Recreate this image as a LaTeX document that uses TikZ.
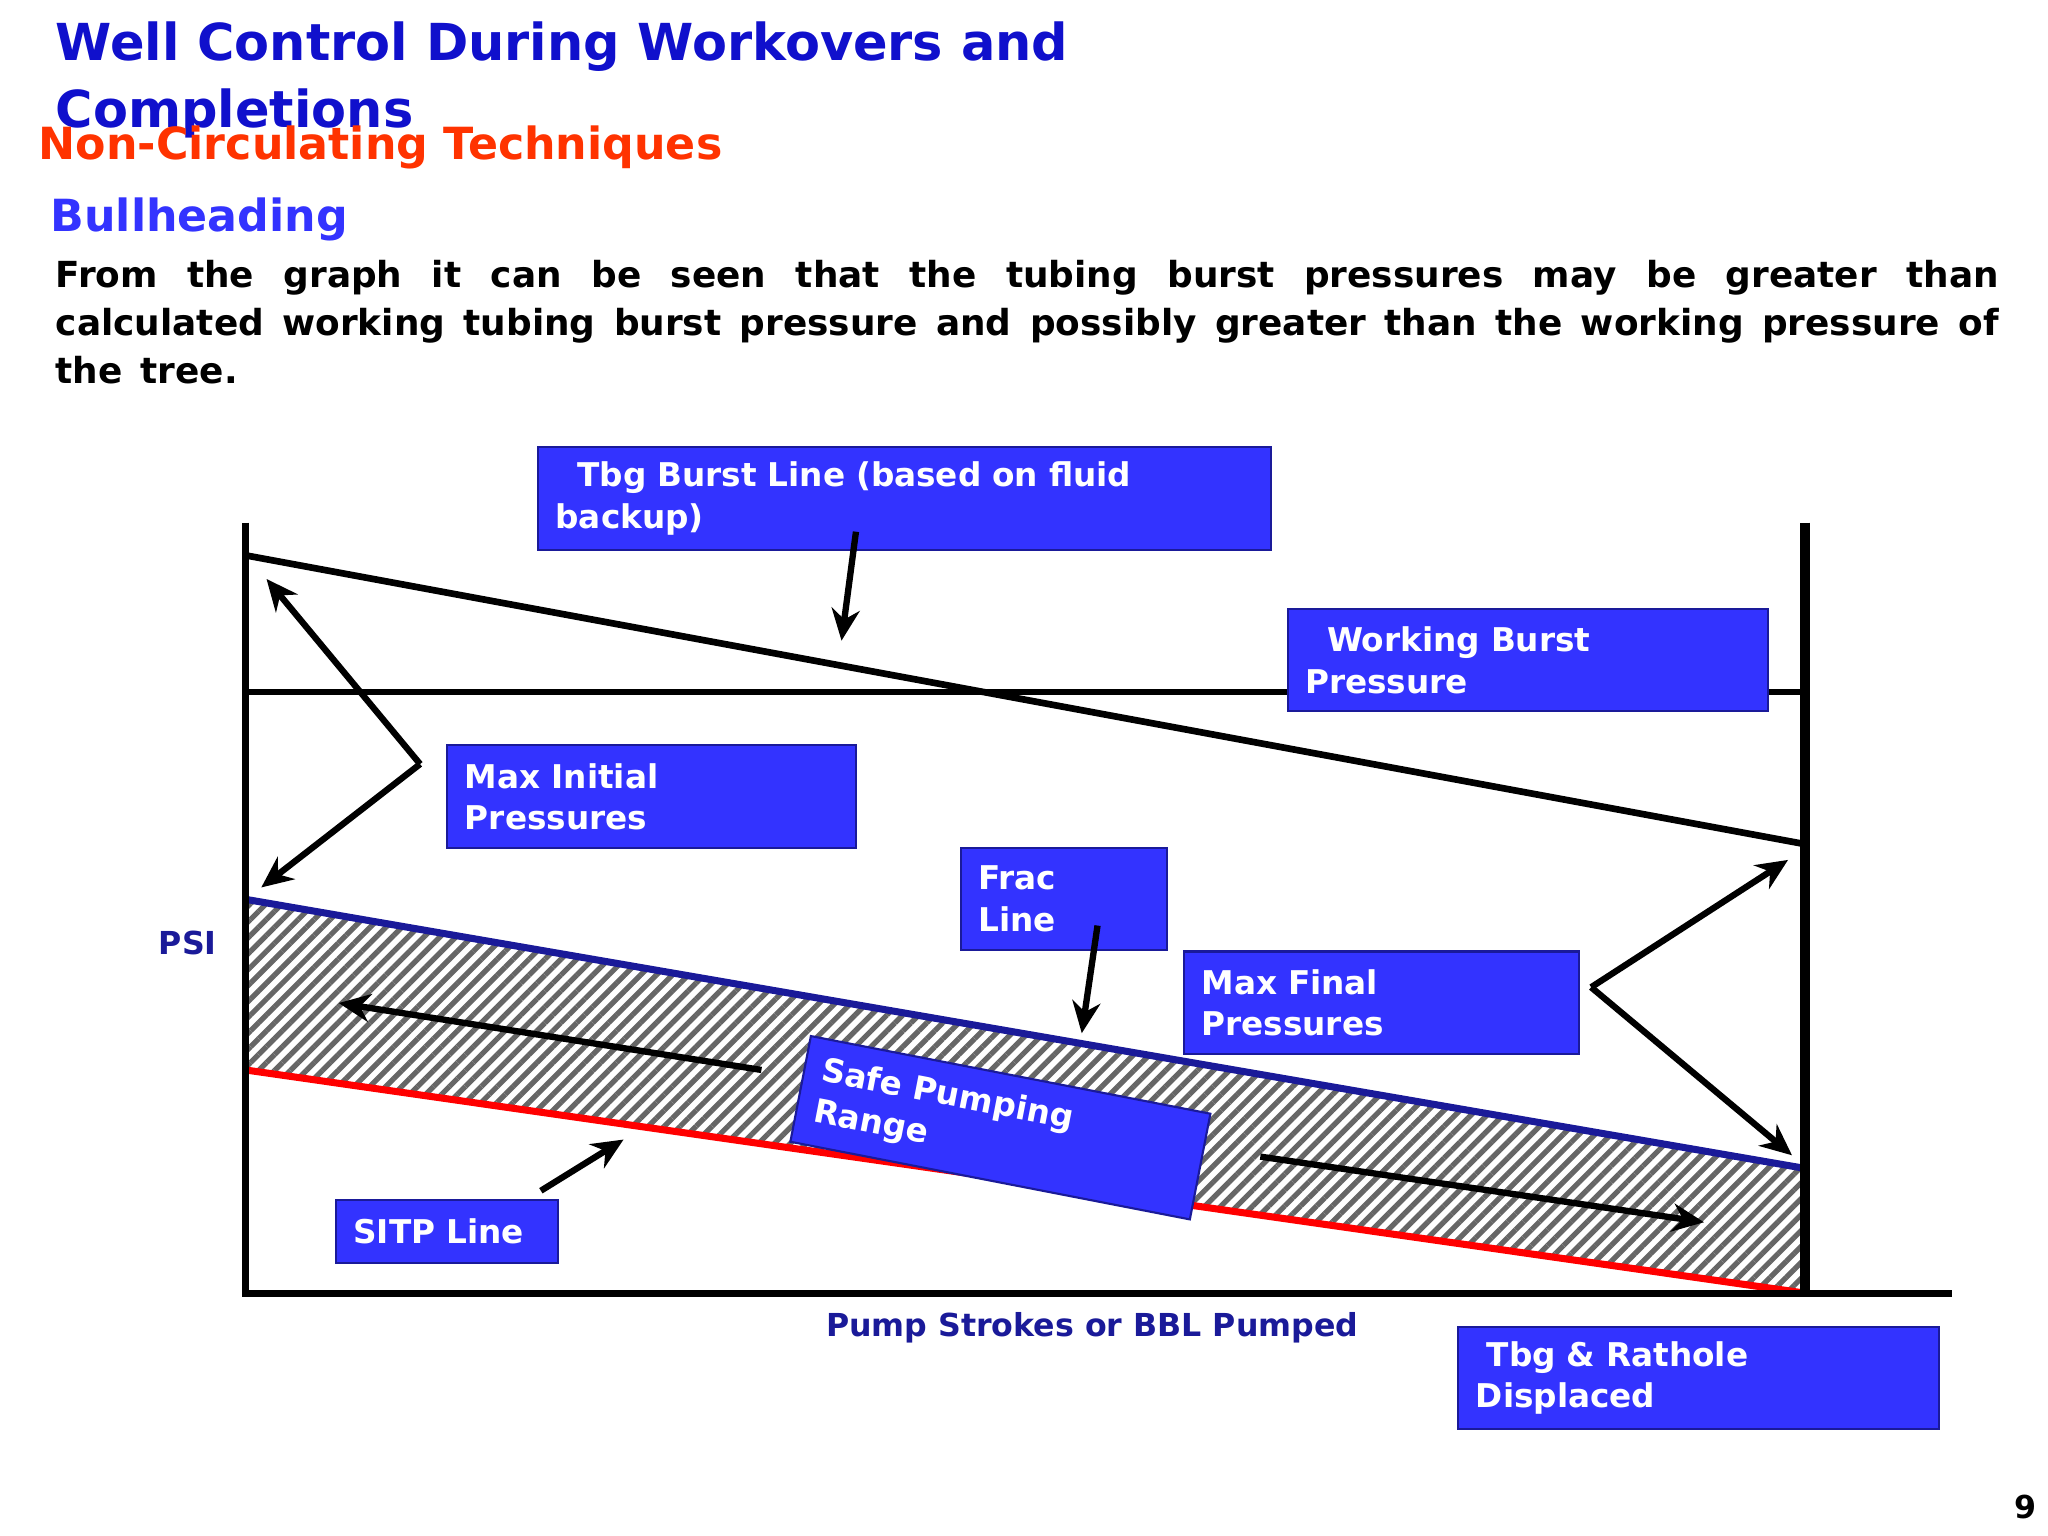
\documentclass[tikz,border=0pt]{standalone}
\usepackage{fontspec}
\setmainfont{DejaVu Sans}
\usetikzlibrary{patterns.meta,arrows.meta}
\definecolor{bx}{HTML}{3333FF}
\definecolor{navy}{HTML}{1A1A99}
\definecolor{ttl}{HTML}{1010CC}
\definecolor{org}{HTML}{FF3300}
\begin{document}
\begin{tikzpicture}[x=0.013128cm,y=-0.013128cm,
  box/.style={draw=navy,line width=0.6pt,fill=bx,text=white,anchor=north west,align=left,inner xsep=5pt,inner ysep=4pt,font=\bfseries\fontsize{9.3}{11.8}\selectfont},
  arr/.style={line width=1.8pt,-{Stealth[length=9pt,width=8pt]}},
  lbl/.style={text=navy,font=\bfseries\fontsize{9}{11}\selectfont}]
\useasboundingbox (0,0) rectangle (1560,1170);
\fill[white] (0,0) rectangle (1560,1170);
\node[anchor=north west,text=ttl,font=\bfseries\fontsize{14.5}{19}\selectfont,align=left,inner sep=0] (t) at (42,16) {Well Control During Workovers and\\Completions};
\node[anchor=north west,text=org,font=\bfseries\fontsize{12.6}{15}\selectfont,inner sep=0] (s) at (29,95) {Non-Circulating Techniques};
\node[anchor=north west,text=bx,font=\bfseries\fontsize{12.6}{15}\selectfont,inner sep=0] (b) at (38,150) {Bullheading};
\node[anchor=north west,text width=1480*0.013128cm,align=justify,font=\bfseries\fontsize{10.2}{13.6}\selectfont,inner sep=0] (p) at (42,198) {\hyphenpenalty=10000\spaceskip=0.5em plus 1em From the graph it can be seen that the tubing burst pressures may be greater than calculated working tubing burst pressure and possibly greater than the working pressure of the tree.};
% hatched region
\fill[white] (187,685) -- (1375,890) -- (1375,985) -- (187,815) -- cycle;
\fill[pattern={Lines[angle=45,distance=3.2pt,line width=1.5pt]},pattern color=black!60] (187,685) -- (1375,890) -- (1375,985) -- (187,815) -- cycle;
\draw[navy,line width=2pt] (187,685) -- (1375,890);
\draw[red,line width=2pt] (187,815) -- (1375,985);
% axes
\draw[line width=2pt] (187,398) -- (187,985) -- (1487,985);
\draw[line width=3pt] (1375,398) -- (1375,985);
\draw[line width=1.9pt] (187,423) -- (1375,643);
\draw[line width=1.9pt] (187,527) -- (1375,527);
% boxes
\node[box,minimum width=558*0.013128cm,minimum height=78*0.013128cm,text width=558*0.013128cm-10pt] (tb) at (409,340) {\ \ Tbg Burst Line (based on fluid\\backup)};
\node[box,minimum width=366*0.013128cm,minimum height=78*0.013128cm,text width=366*0.013128cm-10pt] (wb) at (980,463) {\ \ Working Burst\\Pressure};
\node[box,minimum width=311*0.013128cm,minimum height=78*0.013128cm,text width=311*0.013128cm-10pt] (mi) at (340,567) {Max Initial\\Pressures};
\node[box,minimum width=157*0.013128cm,minimum height=78*0.013128cm,text width=157*0.013128cm-10pt] (fl) at (731,645) {Frac\\Line};
\node[box,minimum width=301*0.013128cm,minimum height=78*0.013128cm,text width=301*0.013128cm-10pt] (mf) at (901,724) {Max Final\\Pressures};
\node[box,minimum width=169*0.013128cm,minimum height=48*0.013128cm,text width=169*0.013128cm-10pt] (si) at (255,913) {SITP Line};
\node[box,minimum width=366*0.013128cm,minimum height=78*0.013128cm,text width=366*0.013128cm-10pt] (tr) at (1110,1010) {\ Tbg \& Rathole\\Displaced};
\node[box,anchor=center,rotate=-11,minimum width=310*0.013128cm,minimum height=82*0.013128cm,text width=310*0.013128cm-10pt] (sp) at (762,859) {Safe Pumping\\Range};
% arrows
\coordinate (a1) at (652,405); \coordinate (a1e) at (641,488);
\draw[arr] (a1) -- (a1e);
\coordinate (v1) at (320,582); \coordinate (v1a) at (203,441); \coordinate (v1b) at (199,676);
\draw[arr] (v1) -- (v1a); \draw[arr] (v1) -- (v1b);
\coordinate (a2) at (580,815); \coordinate (a2e) at (258,764);
\draw[arr] (a2) -- (a2e);
\coordinate (a3) at (412,907); \coordinate (a3e) at (475,868);
\draw[arr] (a3) -- (a3e);
\coordinate (a4) at (836,705); \coordinate (a4e) at (824,787);
\draw[arr] (a4) -- (a4e);
\coordinate (a5) at (960,881); \coordinate (a5e) at (1298,931);
\draw[arr] (a5) -- (a5e);
\coordinate (v2) at (1212,752); \coordinate (v2a) at (1362,655); \coordinate (v2b) at (1365,880);
\draw[arr] (v2) -- (v2a); \draw[arr] (v2) -- (v2b);
% labels
\node[lbl] (psi) at (143,718) {PSI};
\node[lbl] (xl) at (832,1011) {Pump Strokes or BBL Pumped};
\node[font=\bfseries\fontsize{9}{11}\selectfont] (pg) at (1543,1148) {9};
\end{tikzpicture}
\end{document}
